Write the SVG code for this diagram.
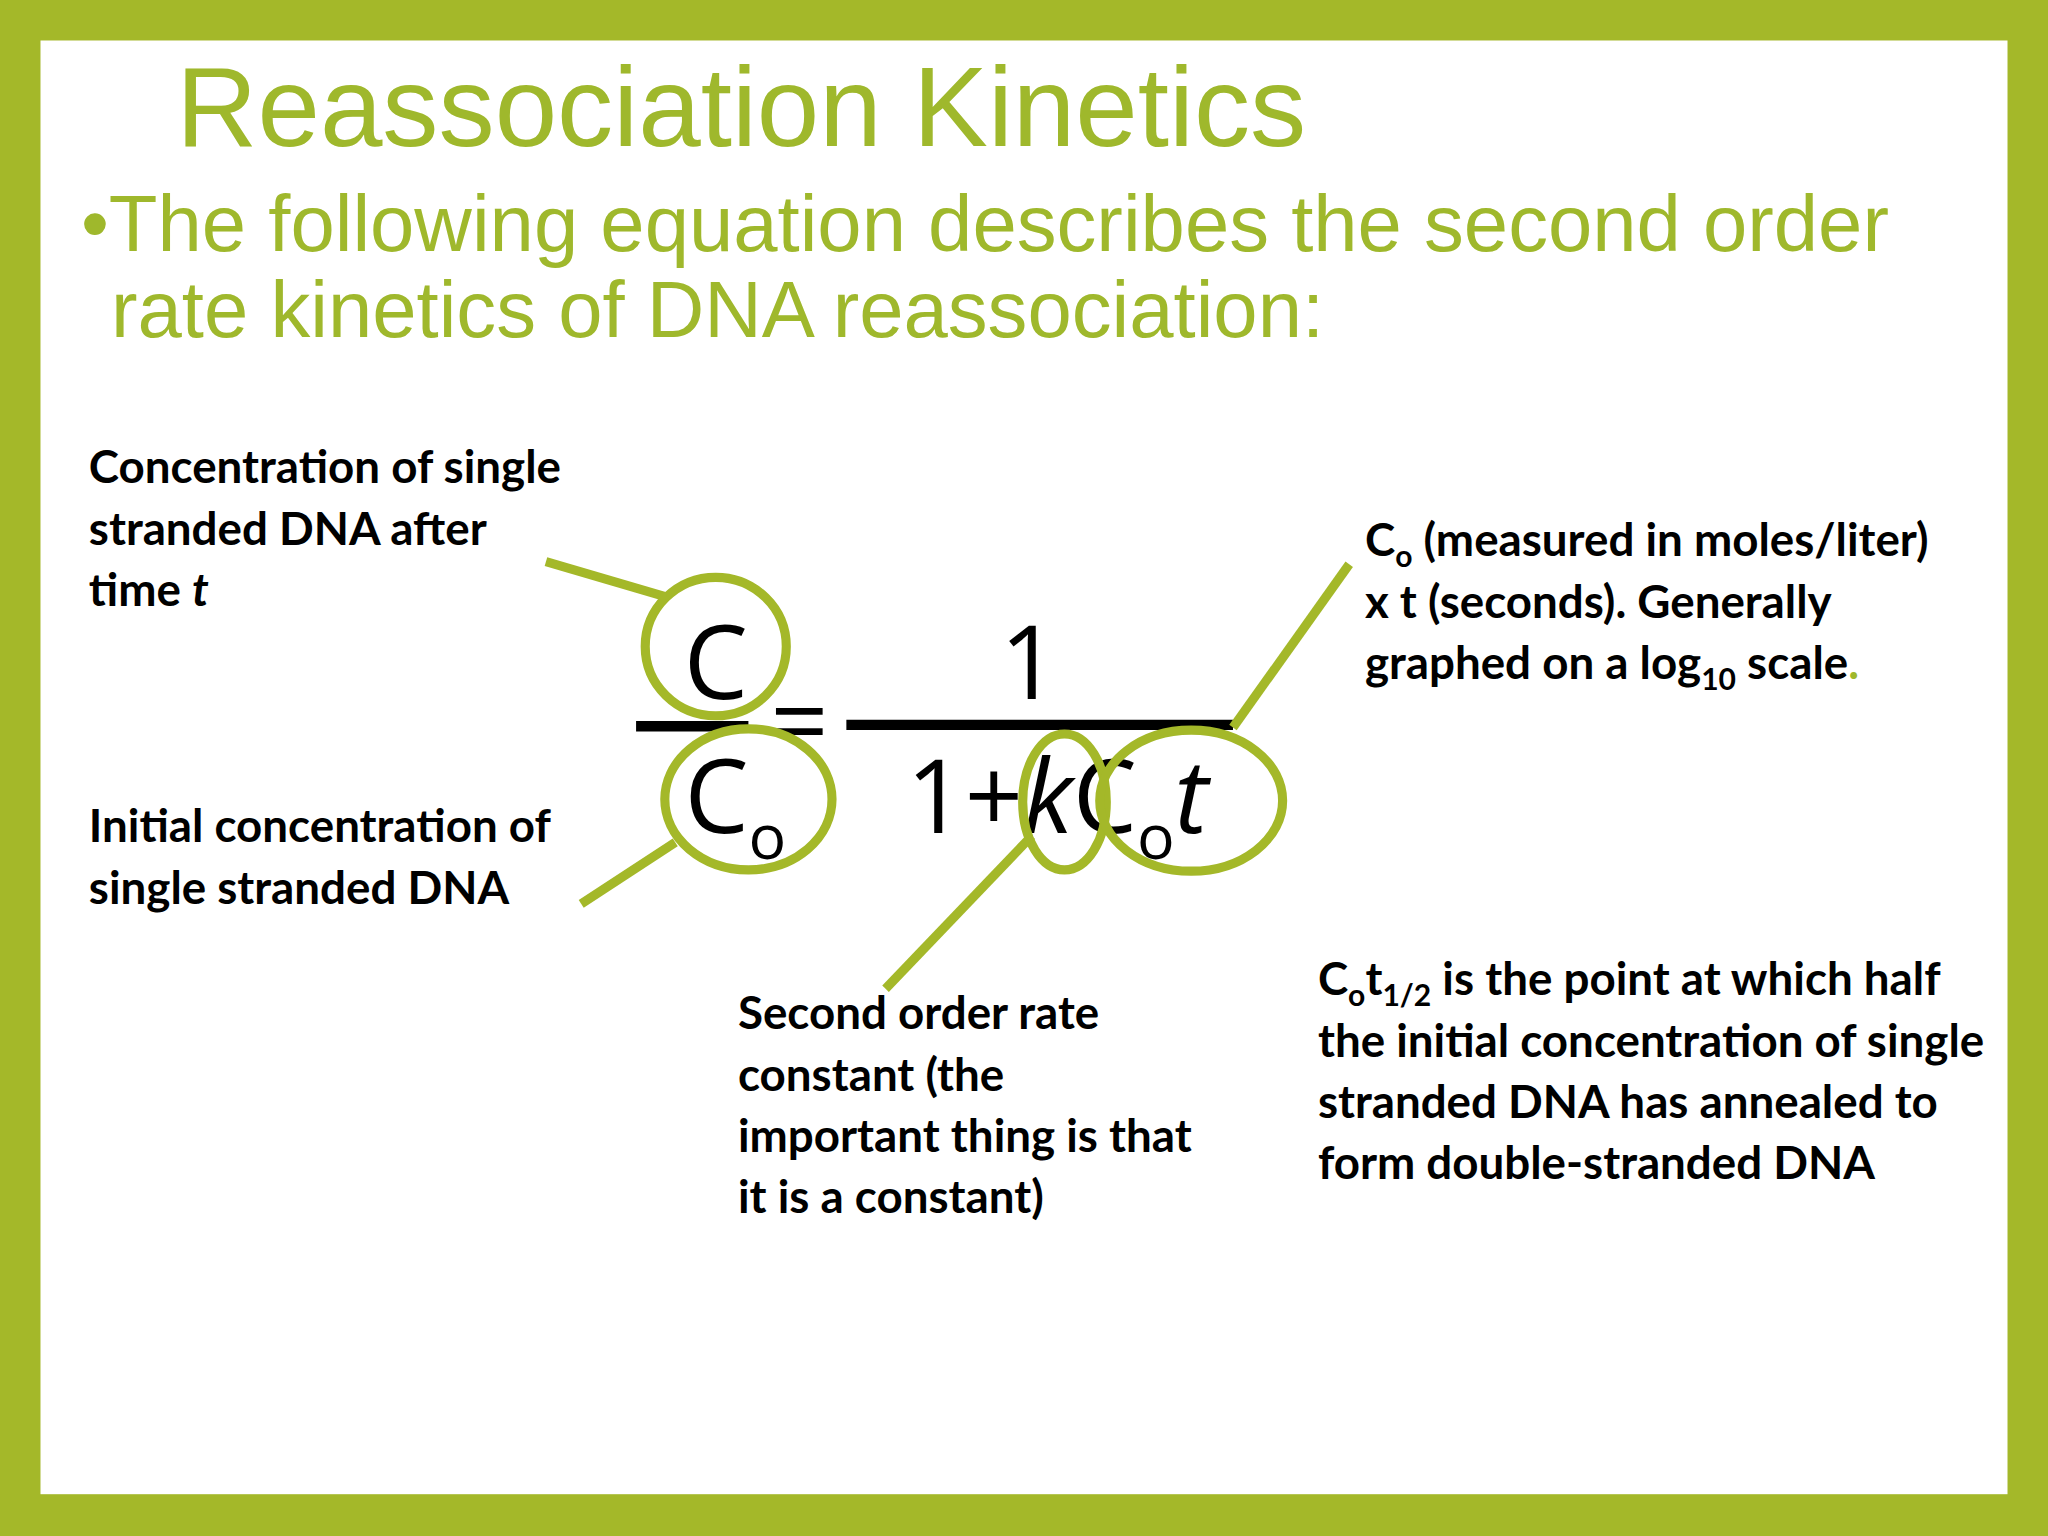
<svg xmlns="http://www.w3.org/2000/svg" width="2048" height="1536" viewBox="0 0 2048 1536">
<style>
.g{fill:#9fb82c}
.lb{font-family:Lato,"Open Sans",sans-serif;font-weight:bold;font-size:35px;fill:#000}
.eq{font-family:"Open Sans","Noto Sans",sans-serif;font-size:78px;fill:#000}
.ring{fill:none;stroke:#a4b829;stroke-width:7}
.ln{stroke:#a4b829;stroke-width:7}
</style>
<rect width="2048" height="1536" fill="#a4b829"/>
<g transform="scale(1.30612)">
<rect x="31" y="31" width="1506" height="1113" fill="#fff"/>
<text x="135" y="112" class="g" font-family="Liberation Sans,sans-serif" font-size="86">Reassociation Kinetics</text>
<text x="62" y="192" class="g" font-family="Liberation Sans,sans-serif" font-size="61">•The following equation describes the second order</text>
<text x="85" y="258" class="g" font-family="Liberation Sans,sans-serif" font-size="61">rate kinetics of DNA reassociation:</text>
<g id="equation">
<text x="548" y="535" class="eq" text-anchor="middle">C</text>
<line x1="487" y1="556" x2="573" y2="556" stroke="#000" stroke-width="8"/>
<text x="612" y="580" class="eq" text-anchor="middle">=</text>
<text x="788" y="535" class="eq" text-anchor="middle">1</text>
<line x1="648" y1="555" x2="944" y2="555" stroke="#000" stroke-width="8"/>
<text x="524" y="638" class="eq">C<tspan font-size="48" dy="20">o</tspan></text>
<text x="694" y="638" class="eq">1+<tspan font-style="italic">k</tspan>C<tspan font-size="48" dy="20">o</tspan><tspan dy="-20" font-style="italic">t</tspan></text>
</g>
<g id="rings">
<ellipse class="ring" cx="548" cy="495" rx="54" ry="53"/>
<ellipse class="ring" cx="573" cy="612" rx="64" ry="54"/>
<ellipse class="ring" cx="815" cy="614" rx="32" ry="52"/>
<ellipse class="ring" cx="912" cy="613" rx="70" ry="54"/>
</g>
<g id="connectors">
<line class="ln" x1="418" y1="430" x2="510" y2="457"/>
<line class="ln" x1="445" y1="692" x2="517" y2="645"/>
<line class="ln" x1="678" y1="757" x2="790" y2="640"/>
<line class="ln" x1="944" y1="557" x2="1033" y2="432"/>
</g>
<g id="label1"><text class="lb" x="68" y="370">Concentration of single</text><text class="lb" x="68" y="417">stranded DNA after</text><text class="lb" x="68" y="464">time <tspan font-style="italic">t</tspan></text></g>
<g id="label2"><text class="lb" x="68" y="645">Initial concentration of</text><text class="lb" x="68" y="692">single stranded DNA</text></g>
<g id="label3"><text class="lb" x="565" y="788">Second order rate</text><text class="lb" x="565" y="835">constant (the</text><text class="lb" x="565" y="882">important thing is that</text><text class="lb" x="565" y="929">it is a constant)</text></g>
<g id="label4"><text class="lb" x="1045" y="426">C<tspan font-size="23" dy="8">o</tspan><tspan dy="-8"> (measured in moles/liter)</tspan></text><text class="lb" x="1045" y="473">x t (seconds). Generally</text><text class="lb" x="1045" y="520">graphed on a log<tspan font-size="23" dy="8">10</tspan><tspan dy="-8"> scale</tspan><tspan class="g">.</tspan></text></g>
<g id="label5"><text class="lb" x="1009" y="762">C<tspan font-size="23" dy="8">o</tspan><tspan dy="-8">t</tspan><tspan font-size="23" dy="8">1/2</tspan><tspan dy="-8"> is the point at which half</tspan></text><text class="lb" x="1009" y="809">the initial concentration of single</text><text class="lb" x="1009" y="856">stranded DNA has annealed to</text><text class="lb" x="1009" y="903">form double-stranded DNA</text></g>
</g>
</svg>
